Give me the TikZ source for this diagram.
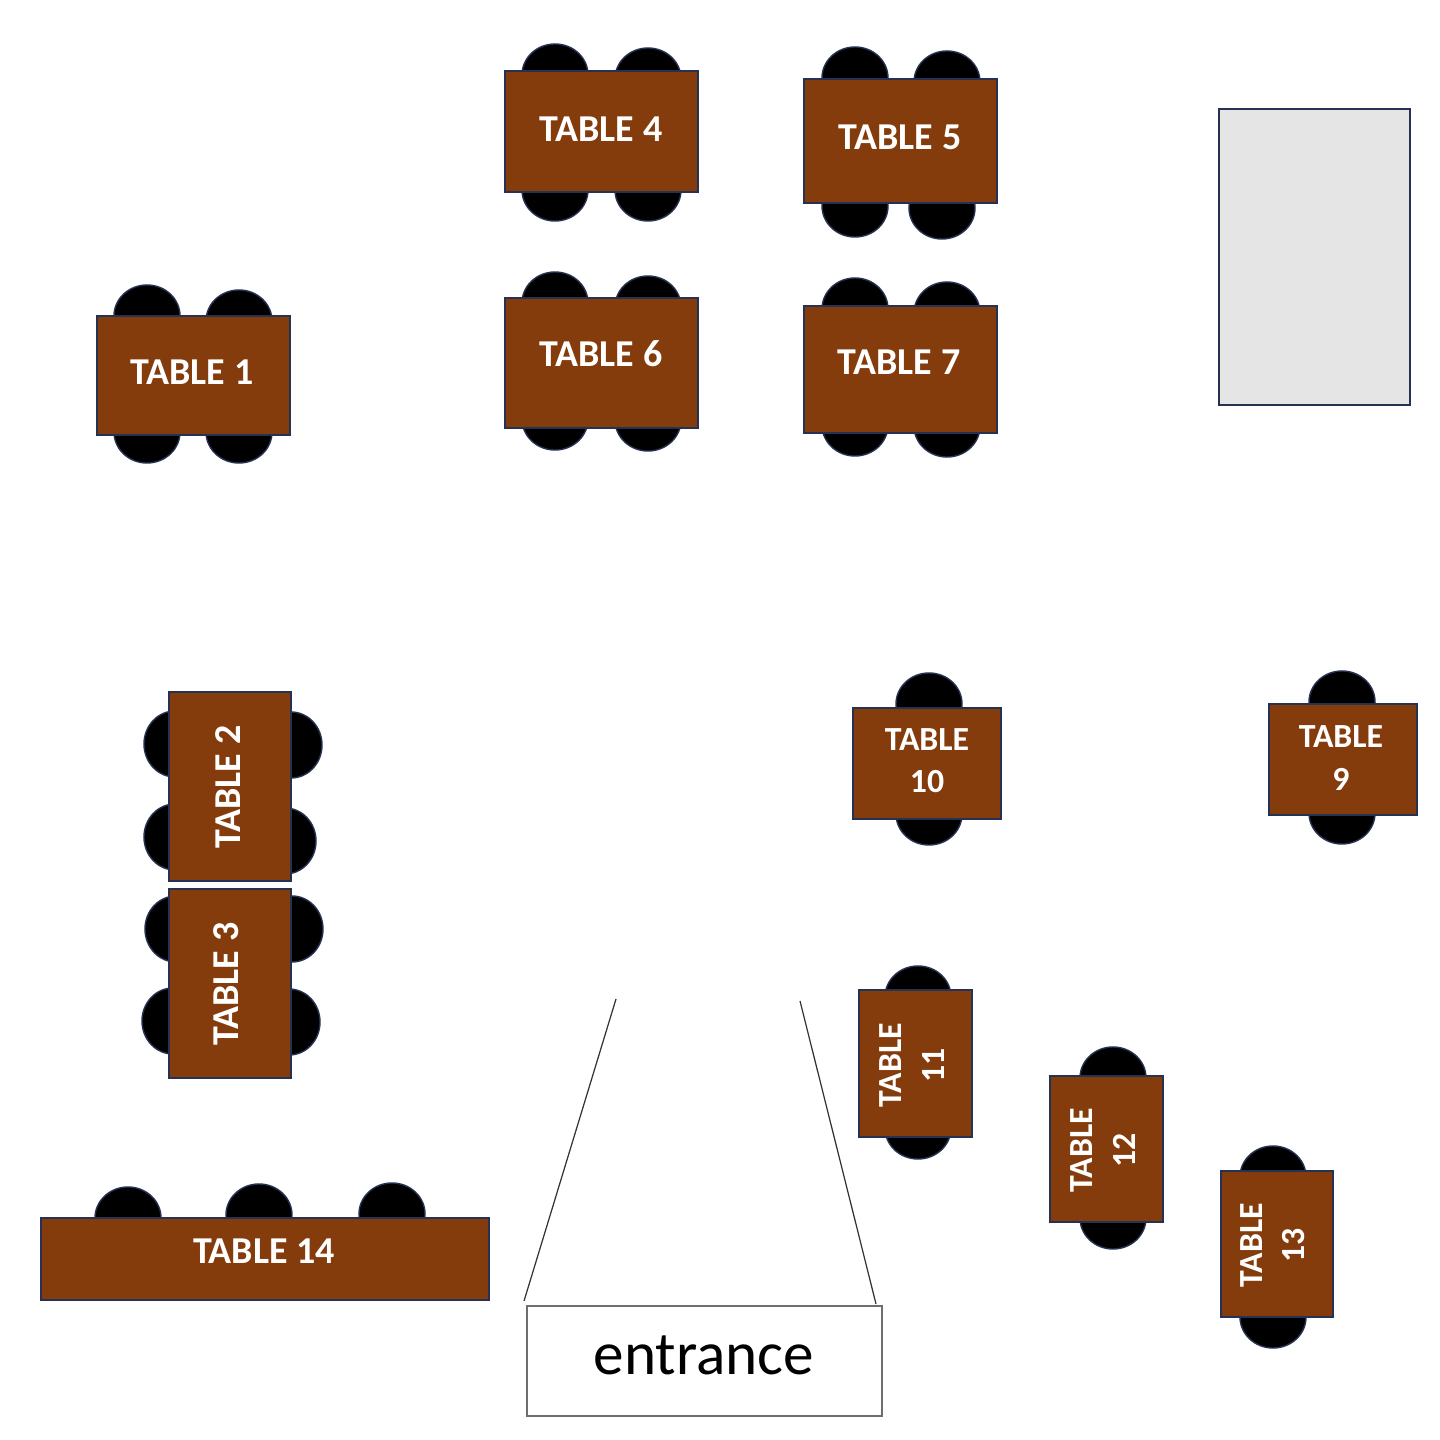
\documentclass[tikz,border=0pt]{standalone}
\usepackage{fontspec}
\setmainfont{Carlito}
\usetikzlibrary{shapes.geometric}
\definecolor{mybrown}{RGB}{132,60,12}
\definecolor{mynavy}{RGB}{38,50,84}
\definecolor{mygrey}{RGB}{229,229,229}
\definecolor{myedge}{RGB}{110,110,110}
\tikzset{
  tablebox/.style={draw=mynavy, fill=mybrown, line width=0.6pt},
  chair/.style={draw=mynavy, fill=black, line width=0.4pt, ellipse, inner sep=0,
    minimum width=0.66cm, minimum height=0.62cm},
  sidechair/.style={chair, rotate=90},
  tablelabel/.style={text=white, inner sep=0, align=center,
    font=\fontsize{10.8}{12}\bfseries\selectfont},
  smalllabel/.style={text=white, inner sep=0, align=center,
    font=\fontsize{9.6}{12}\bfseries\selectfont},
  counter/.style={draw=mynavy, fill=mygrey, line width=0.4pt},
  doorbox/.style={draw=myedge, fill=white, line width=0.4pt},
  doorline/.style={draw=black!80, line width=0.35pt}
}
\begin{document}
\begin{tikzpicture}[x=0.01cm,y=-0.01cm]
\useasboundingbox (0,0) rectangle (1440,1440);

\node [chair] (c1a) at (147,316) {};
\node [chair] (c1b) at (239,321) {};
\node [chair] (c1c) at (147,432) {};
\node [chair] (c1d) at (239,432) {};
\draw [tablebox] (97,316) rectangle (290,435);
\node [tablelabel] (table1) at (192,372) {TABLE 1};

\node [sidechair] (c2a) at (175,744) {};
\node [sidechair] (c2b) at (175,837) {};
\node [sidechair] (c2c) at (291,745) {};
\node [sidechair] (c2d) at (285,841) {};
\draw [tablebox] (169,692) rectangle (291,881);
\node [tablelabel, rotate=90] (table2) at (228,787) {TABLE 2};

\node [sidechair] (c3a) at (176,929) {};
\node [sidechair] (c3b) at (173,1021) {};
\node [sidechair] (c3c) at (292,929) {};
\node [sidechair] (c3d) at (289,1022) {};
\draw [tablebox] (169,889) rectangle (291,1078);
\node [tablelabel, rotate=90] (table3) at (226,984) {TABLE 3};

\node [chair] (c4a) at (555,75) {};
\node [chair] (c4b) at (648,79) {};
\node [chair] (c4c) at (555,190) {};
\node [chair] (c4d) at (648,190) {};
\draw [tablebox] (505,71) rectangle (698,192);
\node [tablelabel] (table4) at (601,129) {TABLE 4};

\node [chair] (c5a) at (855,78) {};
\node [chair] (c5b) at (947,82) {};
\node [chair] (c5c) at (855,206) {};
\node [chair] (c5d) at (942,208) {};
\draw [tablebox] (804,79) rectangle (997,203);
\node [tablelabel] (table5) at (900,137) {TABLE 5};

\node [chair] (c6a) at (555,303) {};
\node [chair] (c6b) at (648,307) {};
\node [chair] (c6c) at (555,419) {};
\node [chair] (c6d) at (648,420) {};
\draw [tablebox] (505,298) rectangle (698,428);
\node [tablelabel] (table6) at (601,354) {TABLE 6};

\node [chair] (c7a) at (855,309) {};
\node [chair] (c7b) at (947,313) {};
\node [chair] (c7c) at (855,425) {};
\node [chair] (c7d) at (947,426) {};
\draw [tablebox] (804,306) rectangle (997,433);
\node [tablelabel] (table7) at (899,362) {TABLE 7};

\node [chair] (c9a) at (1342,702) {};
\node [chair] (c9b) at (1342,813) {};
\draw [tablebox] (1269,704) rectangle (1417,815);
\node [smalllabel] (table9) at (1341,758) {TABLE\\9};

\node [chair] (c10a) at (929,704) {};
\node [chair] (c10b) at (929,814) {};
\draw [tablebox] (853,708) rectangle (1001,819);
\node [smalllabel] (table10) at (927,761) {TABLE\\10};

\node [chair] (c11a) at (918,997) {};
\node [chair] (c11b) at (918,1128) {};
\draw [tablebox] (859,990) rectangle (972,1137);
\node [smalllabel, rotate=90] (table11) at (912,1065) {TABLE\\11};

\node [chair] (c12a) at (1113,1078) {};
\node [chair] (c12b) at (1113,1218) {};
\draw [tablebox] (1050,1076) rectangle (1163,1222);
\node [smalllabel, rotate=90] (table12) at (1103,1150) {TABLE\\12};

\node [chair] (c13a) at (1273,1177) {};
\node [chair] (c13b) at (1273,1317) {};
\draw [tablebox] (1221,1171) rectangle (1333,1317);
\node [smalllabel, rotate=90] (table13) at (1273,1245) {TABLE\\13};

\node [chair] (c14a) at (128,1218) {};
\node [chair] (c14b) at (259,1215) {};
\node [chair] (c14c) at (392,1214) {};
\draw [tablebox] (41,1218) rectangle (489,1300);
\node [tablelabel] (table14) at (264,1251) {TABLE 14};

\draw [counter] (1219,109) rectangle (1410,405);

\draw [doorbox] (527,1306) rectangle (882,1416);
\node [inner sep=0, font=\fontsize{17.4}{20}\selectfont] (entrance) at (704,1355) {entrance};

\coordinate (doorla) at (616,999);
\coordinate (doorlb) at (524,1301);
\coordinate (doorra) at (800,1001);
\coordinate (doorrb) at (876,1304);
\draw [doorline] (doorla) -- (doorlb);
\draw [doorline] (doorra) -- (doorrb);

\end{tikzpicture}
\end{document}
